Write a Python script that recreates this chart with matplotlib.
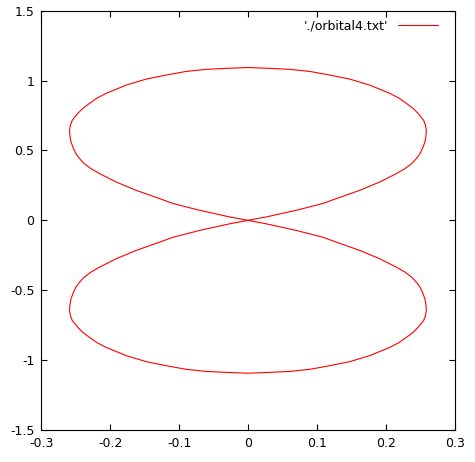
import matplotlib
matplotlib.use('Agg')
import matplotlib.pyplot as plt
from matplotlib.ticker import FuncFormatter

plt.rcParams['font.family'] = 'DejaVu Sans'
plt.rcParams['axes.unicode_minus'] = False

# points, going round the figure eight
# upper lobe: origin -> right tip -> top -> left tip -> origin
upper_x = [0.0, 0.027, 0.071, 0.109, 0.129, 0.163, 0.192, 0.216, 0.228, 0.238, 0.245,
           0.250, 0.254, 0.257, 0.2585, 0.259, 0.2575, 0.255, 0.247, 0.240, 0.230, 0.219,
           0.206, 0.177, 0.148, 0.119, 0.090, 0.061, 0.032,
           0.0,
           -0.032, -0.061, -0.090, -0.119, -0.148, -0.177, -0.206, -0.219, -0.230, -0.240,
           -0.247, -0.255, -0.2575, -0.259, -0.2585, -0.257, -0.254, -0.250, -0.245, -0.238,
           -0.228, -0.216, -0.192, -0.163, -0.129, -0.109, -0.071, -0.027, 0.0]
upper_y = [0.0, 0.025, 0.073, 0.121, 0.157, 0.216, 0.276, 0.336, 0.370, 0.407, 0.445,
           0.479, 0.522, 0.562, 0.605, 0.646, 0.685, 0.717, 0.765, 0.800, 0.837, 0.875,
           0.908, 0.967, 1.010, 1.039, 1.065, 1.080, 1.087,
           1.093,
           1.087, 1.080, 1.065, 1.039, 1.010, 0.967, 0.908, 0.875, 0.837, 0.800,
           0.765, 0.717, 0.685, 0.646, 0.605, 0.562, 0.522, 0.479, 0.445, 0.407,
           0.370, 0.336, 0.276, 0.216, 0.157, 0.121, 0.073, 0.025, 0.0]

# lower lobe: origin -> right tip -> bottom -> left tip -> origin
lower_x = [0.0, 0.027, 0.071, 0.109, 0.129, 0.163, 0.192, 0.216, 0.228, 0.238, 0.245,
           0.250, 0.254, 0.257, 0.2585, 0.259, 0.2575, 0.255, 0.247, 0.240, 0.230, 0.219,
           0.206, 0.177, 0.148, 0.119, 0.090, 0.061, 0.032,
           0.0,
           -0.032, -0.061, -0.090, -0.119, -0.148, -0.177, -0.206, -0.219, -0.230, -0.240,
           -0.247, -0.255, -0.2575, -0.259, -0.2585, -0.257, -0.254, -0.250, -0.245, -0.238,
           -0.228, -0.216, -0.192, -0.163, -0.129, -0.109, -0.071, -0.027, 0.0]
lower_y = [0.0, -0.025, -0.073, -0.121, -0.157, -0.216, -0.276, -0.336, -0.370, -0.407, -0.445,
           -0.479, -0.522, -0.562, -0.605, -0.646, -0.685, -0.717, -0.765, -0.800, -0.837, -0.875,
           -0.908, -0.967, -1.010, -1.039, -1.065, -1.080, -1.087,
           -1.093,
           -1.087, -1.080, -1.065, -1.039, -1.010, -0.967, -0.908, -0.875, -0.837, -0.800,
           -0.765, -0.717, -0.685, -0.646, -0.605, -0.562, -0.522, -0.479, -0.445, -0.407,
           -0.370, -0.336, -0.276, -0.216, -0.157, -0.121, -0.073, -0.025, 0.0]

xs = upper_x + lower_x[1:]
ys = upper_y + lower_y[1:]

x_ticks = [-0.3, -0.2, -0.1, 0, 0.1, 0.2, 0.3]
y_ticks = [-1.5, -1, -0.5, 0, 0.5, 1, 1.5]
series_label = "'./orbital4.txt'"

fig = plt.figure(figsize=(4.75, 4.62), dpi=100)
ax = fig.add_axes([0.087, 0.069, 0.870, 0.908])

ax.plot(xs, ys, color='red', linewidth=0.8, label=series_label)

ax.set_xlim(-0.3, 0.3)
ax.set_ylim(-1.5, 1.5)
ax.set_xticks(x_ticks)
ax.set_yticks(y_ticks)

fmt = FuncFormatter(lambda v, pos: ('%g' % round(v, 2)))
ax.xaxis.set_major_formatter(fmt)
ax.yaxis.set_major_formatter(fmt)

ax.tick_params(direction='in', length=4.5, width=0.8, labelsize=9,
               top=True, right=True, pad=5)
for s in ax.spines.values():
    s.set_linewidth(0.8)

# gnuplot style key: text first, sample line after it
ax.legend(loc='upper right', bbox_to_anchor=(0.985, 1.003), frameon=False,
          markerfirst=False, fontsize=9, handlelength=3.2,
          borderaxespad=0.4, handletextpad=0.8)

fig.savefig('out.png', dpi=100)
